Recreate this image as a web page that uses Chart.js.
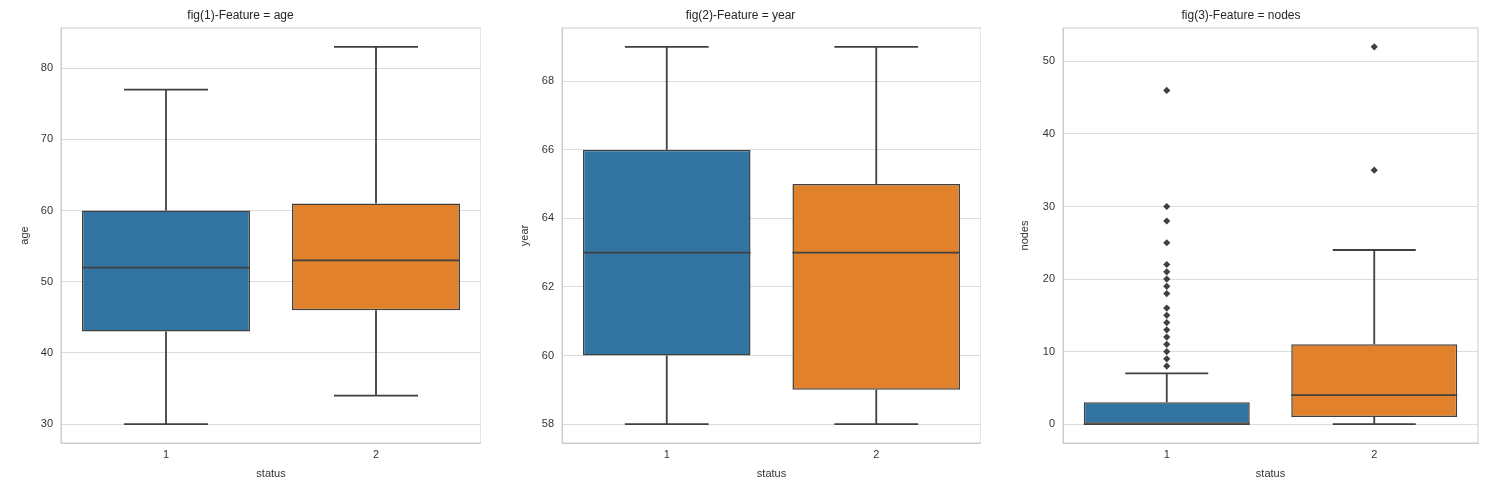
<!DOCTYPE html>
<html><head><meta charset="utf-8">
<script src="https://cdn.jsdelivr.net/npm/chart.js@4"></script>
<style>body{margin:0;background:#fff;width:1507px;height:502px;position:relative;overflow:hidden}
.c{position:absolute;top:0;height:485px}</style></head>
<body>
<div class="c" style="left:0;width:481px"><canvas id="c1"></canvas></div>
<div class="c" style="left:500px;width:481px"><canvas id="c2"></canvas></div>
<div class="c" style="left:1000px;width:482px"><canvas id="c3"></canvas></div>
<script>
const categories = ['1','2'];
// [low whisker, q1, median, q3, high whisker]
const ageStats  = [[30,43,52,60,77],[34,46,53,61,83]];
const yearStats = [[58,60,63,66,69],[58,59,63,65,69]];
const nodesStats= [[0,0,0,3,7],[0,1,4,11,24]];
const ageOutliers = [[],[]];
const yearOutliers = [[],[]];
const nodesOutliers = [[46,30,28,25,22,21,20,19,18,16,15,14,13,12,11,10,9,8],[52,35]];
const ageTicks = [30,40,50,60,70,80];
const yearTicks = [58,60,62,64,66,68];
const nodesTicks = [0,10,20,30,40,50];
const colors = ['#3274a1','#e1812c'];
const edge = '#404040';
const FONT = "'Liberation Sans', Arial, sans-serif";

const boxPlugin = {
  id:'boxlines',
  afterDatasetsDraw(chart){
    const st = chart.options.plugins.boxlines.stats;
    const ctx = chart.ctx, y = chart.scales.y;
    const meta = chart.getDatasetMeta(0);
    ctx.save(); ctx.strokeStyle = edge; ctx.lineWidth = 1.8;
    st.forEach((s,i)=>{
      const el = meta.data[i]; const x = el.x; const hw = el.width/2; const cw = hw/2;
      const p = v=>y.getPixelForValue(v);
      ctx.beginPath();
      ctx.moveTo(x-hw,p(s[2])); ctx.lineTo(x+hw,p(s[2]));
      ctx.moveTo(x,p(s[3])); ctx.lineTo(x,p(s[4]));
      ctx.moveTo(x,p(s[1])); ctx.lineTo(x,p(s[0]));
      ctx.moveTo(x-cw,p(s[4])); ctx.lineTo(x+cw,p(s[4]));
      ctx.moveTo(x-cw,p(s[0])); ctx.lineTo(x+cw,p(s[0]));
      ctx.stroke();
    });
    ctx.restore();
  }
};

function make(id,title,ylab,stats,outl,ticks,min,max,yw){
  const outPts=[]; outl.forEach((a,i)=>a.forEach(v=>outPts.push({x:categories[i],y:v})));
  new Chart(document.getElementById(id),{
    type:'bar',
    data:{labels:categories,datasets:[
      {data:stats.map(s=>[s[1],s[3]]),backgroundColor:colors,borderColor:edge,borderWidth:1.5,borderSkipped:false,barPercentage:0.8,categoryPercentage:1},
      {type:'line',data:outPts,showLine:false,pointStyle:'rectRot',pointRadius:3.6,backgroundColor:edge,borderColor:edge,pointBorderWidth:0}
    ]},
    options:{responsive:true,maintainAspectRatio:false,animation:false,
      layout:{padding:0},
      plugins:{legend:{display:false},tooltip:{enabled:false},
        title:{display:true,text:title,color:'#262626',font:{family:FONT,size:12,weight:'normal'},padding:{top:8,bottom:5.6}},
        boxlines:{stats:stats}},
      scales:{
        x:{grid:{display:false,drawTicks:false},border:{color:'#cccccc'},
          ticks:{color:'#333',font:{family:FONT,size:11},padding:5},
          title:{display:true,text:'status',color:'#333',font:{family:FONT,size:11},padding:{top:0,bottom:4}},
          afterFit(s){s.height=42;}},
        y:{min:min,max:max,grid:{color:'#dcdcdc',drawTicks:false},border:{color:'#cccccc'},
          ticks:{color:'#333',font:{family:FONT,size:11},padding:8},
          afterBuildTicks(s){s.ticks=ticks.map(v=>({value:v}));},
          title:{display:true,text:ylab,color:'#333',font:{family:FONT,size:11},padding:{top:18,bottom:0}},
          afterFit(s){s.width=yw;}}
      }},
    plugins:[boxPlugin,{id:'frame',afterDraw(c){const a=c.chartArea,ctx=c.ctx;ctx.save();ctx.strokeStyle='#cccccc';ctx.lineWidth=1;ctx.strokeRect(a.left,a.top,a.right-a.left,a.bottom-a.top);ctx.restore();}}]
  });
}
make('c1','fig(1)-Feature = age','age',ageStats,ageOutliers,ageTicks,27.35,85.65,61);
make('c2','fig(2)-Feature = year','year',yearStats,yearOutliers,yearTicks,57.45,69.55,62);
make('c3','fig(3)-Feature = nodes','nodes',nodesStats,nodesOutliers,nodesTicks,-2.6,54.6,63);
</script></body></html>
